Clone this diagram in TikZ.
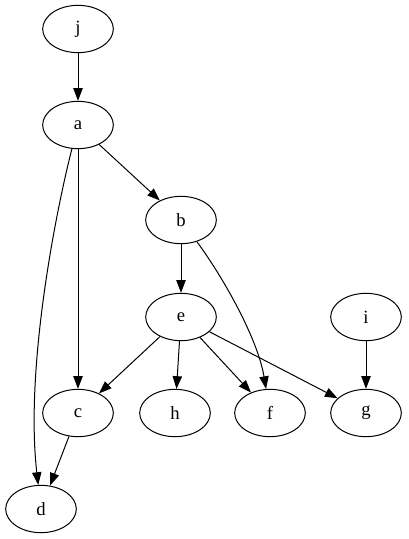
\documentclass[tikz,border=0pt]{standalone}
\usepackage{fontspec}
\setmainfont{Liberation Serif}
\usetikzlibrary{arrows.meta,shapes.geometric}
\begin{document}
\begin{tikzpicture}[x=0.75pt,y=-0.75pt,
  gnode/.style={draw,ellipse,line width=0.75pt,inner sep=0pt,minimum width=53pt,minimum height=35.5pt,font=\fontsize{14pt}{16pt}\selectfont},
  edge/.style={line width=0.75pt,-{Triangle[length=9.5pt,width=7pt]}}]
\useasboundingbox (0,0) rectangle (408,539);
\node[gnode] (j) at (78,29) {j};
\node[gnode] (a) at (78,125) {a};
\node[gnode] (b) at (181,220) {b};
\node[gnode] (e) at (181,317) {e};
\node[gnode] (i) at (366,317) {i};
\node[gnode] (c) at (78,413) {c};
\node[gnode] (h) at (175,413) {h};
\node[gnode] (f) at (270,413) {f};
\node[gnode] (g) at (366,413) {g};
\node[gnode] (d) at (41,509) {d};
\draw[edge] (j) -- (a);
\draw[edge] (a) -- (b);
\draw[edge] (a) -- (c);
\draw[edge] (a) .. controls (55,215) and (25,370) .. (d);
\draw[edge] (b) -- (e);
\draw[edge] (b) .. controls (225,280) and (258,340) .. (f);
\draw[edge] (e) -- (c);
\draw[edge] (e) -- (h);
\draw[edge] (e) -- (f);
\draw[edge] (e) -- (g);
\draw[edge] (i) -- (g);
\draw[edge] (c) -- (d);
\end{tikzpicture}
\end{document}
